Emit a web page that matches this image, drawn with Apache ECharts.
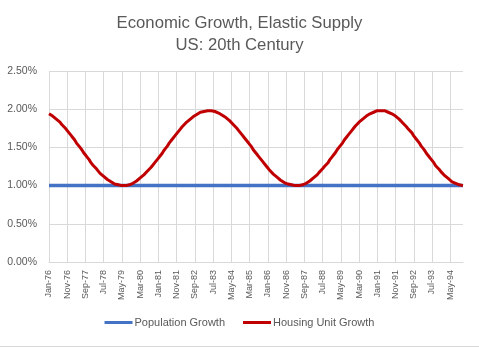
<!DOCTYPE html>
<html>
<head>
<meta charset="utf-8">
<script src="https://cdn.jsdelivr.net/npm/echarts@6/dist/echarts.min.js"></script>
<style>
html,body{margin:0;padding:0;background:#fff;}
#chart{width:479px;height:348px;}
</style>
</head>
<body>
<div id="chart"></div>
<script>
// Monthly categories Jan-76 .. Dec-94
const monthNames = ['Jan','Feb','Mar','Apr','May','Jun','Jul','Aug','Sep','Oct','Nov','Dec'];
const years = [76,77,78,79,80,81,82,83,84,85,86,87,88,89,90,91,92,93,94];
const categories = [];
years.forEach(y => monthNames.forEach(m => categories.push(m + '-' + y)));

const seriesNames = ['Population Growth', 'Housing Unit Growth'];

// Population growth, % per year (flat)
const populationGrowth = [
  1.00,1.00,1.00,1.00,1.00,1.00,1.00,1.00,1.00,1.00,1.00,1.00,
  1.00,1.00,1.00,1.00,1.00,1.00,1.00,1.00,1.00,1.00,1.00,1.00,
  1.00,1.00,1.00,1.00,1.00,1.00,1.00,1.00,1.00,1.00,1.00,1.00,
  1.00,1.00,1.00,1.00,1.00,1.00,1.00,1.00,1.00,1.00,1.00,1.00,
  1.00,1.00,1.00,1.00,1.00,1.00,1.00,1.00,1.00,1.00,1.00,1.00,
  1.00,1.00,1.00,1.00,1.00,1.00,1.00,1.00,1.00,1.00,1.00,1.00,
  1.00,1.00,1.00,1.00,1.00,1.00,1.00,1.00,1.00,1.00,1.00,1.00,
  1.00,1.00,1.00,1.00,1.00,1.00,1.00,1.00,1.00,1.00,1.00,1.00,
  1.00,1.00,1.00,1.00,1.00,1.00,1.00,1.00,1.00,1.00,1.00,1.00,
  1.00,1.00,1.00,1.00,1.00,1.00,1.00,1.00,1.00,1.00,1.00,1.00,
  1.00,1.00,1.00,1.00,1.00,1.00,1.00,1.00,1.00,1.00,1.00,1.00,
  1.00,1.00,1.00,1.00,1.00,1.00,1.00,1.00,1.00,1.00,1.00,1.00,
  1.00,1.00,1.00,1.00,1.00,1.00,1.00,1.00,1.00,1.00,1.00,1.00,
  1.00,1.00,1.00,1.00,1.00,1.00,1.00,1.00,1.00,1.00,1.00,1.00,
  1.00,1.00,1.00,1.00,1.00,1.00,1.00,1.00,1.00,1.00,1.00,1.00,
  1.00,1.00,1.00,1.00,1.00,1.00,1.00,1.00,1.00,1.00,1.00,1.00,
  1.00,1.00,1.00,1.00,1.00,1.00,1.00,1.00,1.00,1.00,1.00,1.00,
  1.00,1.00,1.00,1.00,1.00,1.00,1.00,1.00,1.00,1.00,1.00,1.00,
  1.00,1.00,1.00,1.00,1.00,1.00,1.00,1.00,1.00,1.00,1.00,1.00
];

// Housing unit growth, % per year (monthly)
const housingUnitGrowth = [
  1.94,1.93,1.91,1.89,1.87,1.85,1.83,1.80,1.78,1.75,
  1.72,1.69,1.66,1.63,1.60,1.56,1.53,1.50,1.47,1.43,
  1.40,1.37,1.34,1.30,1.27,1.25,1.22,1.19,1.16,1.14,
  1.12,1.10,1.08,1.06,1.05,1.03,1.02,1.01,1.01,1.00,
  1.00,
  1.00,1.00,1.01,1.01,1.02,1.03,1.05,1.06,1.08,1.10,
  1.12,1.14,1.16,1.19,1.21,1.24,1.27,1.30,1.33,1.36,
  1.39,1.42,1.46,1.49,1.52,1.56,1.59,1.62,1.65,1.68,
  1.71,1.74,1.77,1.79,1.82,1.84,1.86,1.88,1.90,1.92,
  1.93,1.95,1.96,1.97,1.97,1.98,1.98,
  1.98,1.98,1.97,1.97,1.96,1.95,1.94,1.92,1.91,1.89,
  1.87,1.85,1.83,1.80,1.78,1.75,1.72,1.69,1.66,1.63,
  1.60,1.57,1.54,1.51,1.47,1.44,1.41,1.38,1.35,1.32,
  1.29,1.26,1.23,1.20,1.18,1.15,1.13,1.11,1.09,1.07,
  1.06,1.04,1.03,1.02,1.01,1.01,1.00,1.00,
  1.00,1.00,1.01,1.01,1.02,1.03,1.05,1.06,1.08,1.10,
  1.12,1.14,1.17,1.19,1.22,1.25,1.27,1.30,1.34,1.37,
  1.40,1.43,1.47,1.50,1.53,1.56,1.60,1.63,1.66,1.69,
  1.72,1.75,1.78,1.80,1.83,1.85,1.87,1.89,1.91,1.93,
  1.94,1.95,1.96,1.97,1.98,1.98,
  1.98,1.98,1.98,1.97,1.96,1.95,1.94,1.93,1.91,1.89,
  1.87,1.85,1.82,1.80,1.77,1.74,1.72,1.69,1.65,1.62,
  1.59,1.56,1.52,1.49,1.46,1.42,1.39,1.36,1.33,1.30,
  1.26,1.24,1.21,1.18,1.16,1.13,1.11,1.09,1.07,1.05,
  1.04,1.03,1.02,1.01,1.00,1.00
];

const yTicks = { min: 0, max: 2.5, interval: 0.5 };

const FONT = "'Liberation Sans', Arial, sans-serif";
const chart = echarts.init(document.getElementById('chart'), null, { renderer: 'canvas' });
chart.setOption({
  animation: false,
  backgroundColor: '#ffffff',
  title: {
    text: 'Economic Growth, Elastic Supply\nUS: 20th Century',
    left: 'center',
    top: 12,
    padding: 0,
    textStyle: { fontFamily: FONT, fontSize: 16.7, fontWeight: 'normal', color: '#595959', lineHeight: 22 }
  },
  legend: {
    bottom: 15,
    left: 'center',
    itemGap: 18,
    itemWidth: 28,
    itemHeight: 3,
    icon: 'rect',
    textStyle: { fontFamily: FONT, fontSize: 11, color: '#595959', padding: [0, 0, 0, -3] },
    data: seriesNames
  },
  grid: { left: 49, right: 16, top: 71, bottom: 86, containLabel: false },
  xAxis: {
    type: 'category',
    data: categories,
    boundaryGap: false,
    axisLine: { show: true, lineStyle: { color: '#d9d9d9', width: 1 } },
    axisTick: { show: false },
    axisLabel: { interval: 9, rotate: 90, margin: 8, fontFamily: FONT, fontSize: 9, color: '#595959' },
    splitLine: { show: true, interval: 9, lineStyle: { color: '#d9d9d9', width: 1 } }
  },
  yAxis: {
    type: 'value',
    min: yTicks.min,
    max: yTicks.max,
    interval: yTicks.interval,
    axisLine: { show: false },
    axisTick: { show: false },
    axisLabel: { margin: 12, fontFamily: FONT, fontSize: 10.5, color: '#595959', formatter: v => v.toFixed(2) + '%' },
    splitLine: { lineStyle: { color: '#d9d9d9', width: 1 } }
  },
  series: [
    {
      name: seriesNames[0], type: 'line', data: populationGrowth, showSymbol: false, symbol: 'none',
      lineStyle: { color: '#4472C4', width: 3.5 }, itemStyle: { color: '#4472C4' }
    },
    {
      name: seriesNames[1], type: 'line', data: housingUnitGrowth, showSymbol: false, symbol: 'none',
      lineStyle: { color: '#C00000', width: 3 }, itemStyle: { color: '#C00000' }
    }
  ],
  graphic: [
    { type: 'line', shape: { x1: 0, y1: 346.5, x2: 479, y2: 346.5 }, style: { stroke: '#d9d9d9', lineWidth: 1 } }
  ]
});
</script>
</body>
</html>
